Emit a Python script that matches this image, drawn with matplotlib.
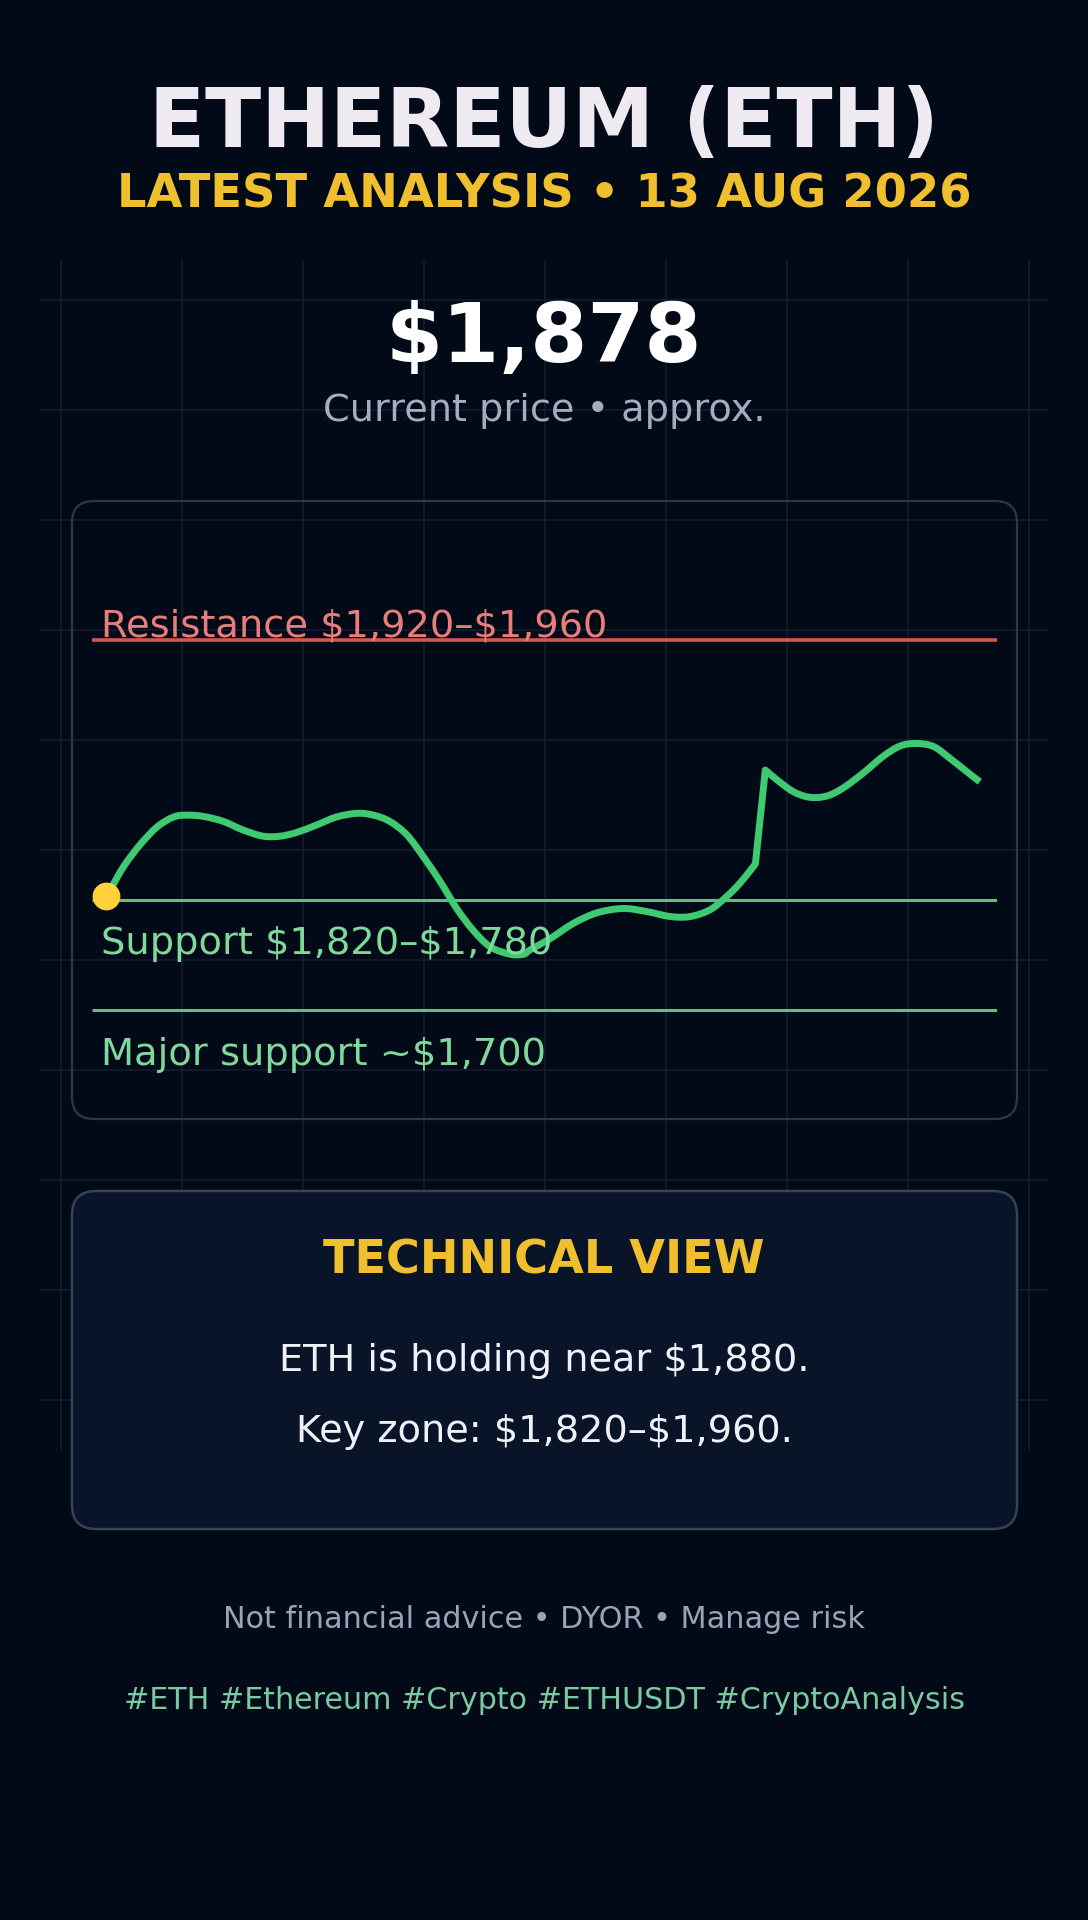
import matplotlib
matplotlib.use("Agg")
import matplotlib.pyplot as plt
from matplotlib.patches import FancyBboxPatch, PathPatch
from matplotlib.path import Path
import numpy as np

# ---------------- data ----------------
title = "ETHEREUM (ETH)"
subtitle = "LATEST ANALYSIS • 13 AUG 2026"
price_text = "$1,878"
price_caption = "Current price • approx."

level_names = ["Resistance $1,920–$1,960", "Support $1,820–$1,780", "Major support ~$1,700"]
level_values = [77.3, 35.3, 17.5]          # relative position in chart (0-100)

# price path: time (0-100 % of session) and relative level (0-100)
path_t = [1.5, 2.0, 3.5, 5.3, 7.2, 9.0, 10.5, 12.3, 14.5, 16.7, 18.9, 20.8, 22.6,
          24.8, 27.0, 29.3, 31.1, 32.9, 34.8, 36.6, 38.5, 40.3, 42.1, 44.0, 46.2,
          47.7, 48.4, 50.6, 53.2, 55.8, 58.7, 61.3, 63.9, 66.1, 68.3, 70.1, 71.6,
          73.3, 74.4, 75.7, 77.5, 79.3, 81.2, 83.0, 85.2, 87.4, 89.3, 91.1,
          93.0, 94.8, 96.7, 98.1]
path_v = [35.9, 36.9, 40.7, 44.2, 47.1, 48.7, 49.0, 48.8, 48.0, 46.6, 45.6, 45.6, 46.2,
          47.4, 48.7, 49.3, 49.0, 48.0, 45.8, 42.3, 38.2, 33.9, 30.4, 27.7, 26.5,
          26.5, 27.2, 29.0, 31.5, 33.2, 33.9, 33.4, 32.6, 32.6, 33.7, 35.8, 38.0,
          41.1, 56.3, 54.7, 52.8, 51.9, 52.1, 53.4, 55.8, 58.5, 60.2, 60.6,
          60.1, 58.2, 56.0, 54.4]
sharp_t = [73.3, 74.4]   # corners of the breakout spike

view_title = "TECHNICAL VIEW"
view_lines = ["ETH is holding near $1,880.", "Key zone: $1,820–$1,960."]
footer = "Not financial advice • DYOR • Manage risk"
hashtags = "#ETH #Ethereum #Crypto #ETHUSDT #CryptoAnalysis"

# ---------------- style ----------------
W, H, DPI = 1088, 1920, 100
BG = "#020a17"
GRID = "#141d2d"
plt.rcParams['font.family'] = ['DejaVu Sans']
plt.rcParams['text.parse_math'] = False

fig = plt.figure(figsize=(W / DPI, H / DPI), dpi=DPI, facecolor=BG)

# background / layout axes in pixel units
bg = fig.add_axes([0, 0, 1, 1], zorder=0)
bg.set_xlim(0, W)
bg.set_ylim(H, 0)
bg.axis("off")
bg.set_facecolor(BG)

# decorative grid
for gx in 61 + 121 * np.arange(9):
    bg.plot([gx, gx], [260, 1450], color=GRID, lw=1.2, zorder=1, solid_capstyle="butt")
for gy in 300 + 110 * np.arange(11):
    bg.plot([40, 1048], [gy, gy], color=GRID, lw=1.2, zorder=1, solid_capstyle="butt")

# header texts
bg.text(544, 147, title, ha="center", va="baseline", fontsize=59.2, weight="bold",
        color="#efe9f1", zorder=5)
bg.text(544, 208, subtitle, ha="center", va="baseline", fontsize=33.4, weight="bold",
        color="#f0bf2e", zorder=5)
bg.text(544, 362, price_text, ha="center", va="baseline", fontsize=59, weight="bold",
        color="#ffffff", zorder=5)
bg.text(544, 421, price_caption, ha="center", va="baseline", fontsize=27.5,
        color="#a3adbf", zorder=5)

# chart card
bg.add_patch(FancyBboxPatch((72, 501), 945, 618,
                            boxstyle="round,pad=0,rounding_size=22",
                            fc="none", ec="#2b384c", lw=1.6, zorder=3))

# technical view card
bg.add_patch(FancyBboxPatch((72, 1191), 945, 338,
                            boxstyle="round,pad=0,rounding_size=24",
                            fc="#0a1429", ec="#33435a", lw=1.8, zorder=3))
bg.text(544, 1273, view_title, ha="center", va="baseline", fontsize=33.2, weight="bold",
        color="#f0bf2e", zorder=5)
for i, line in enumerate(view_lines):
    bg.text(544, 1371 + 71 * i, line, ha="center", va="baseline", fontsize=27.5,
            color="#eef1f6", zorder=5)

# footer
bg.text(544, 1628, footer, ha="center", va="baseline", fontsize=21.8,
        color="#9aa4b8", zorder=5)
bg.text(544, 1709, hashtags, ha="center", va="baseline", fontsize=21.7,
        color="#7cc8a0", zorder=5)

# ---------------- chart axes ----------------
ax = fig.add_axes([92 / W, 1 - 1118 / H, 905 / W, 618 / H], zorder=2)
ax.set_xlim(0, 100)
ax.set_ylim(0, 100)
ax.patch.set_alpha(0)
ax.axis("off")

line_colors = ["#d9534f", "#62bd7f", "#62bd7f"]
line_widths = [2.6, 2.2, 2.2]
label_colors = ["#e87e7b", "#80d99c", "#80d99c"]
label_offsets = [0.65, -8.75, -8.9]
for name, val, lc, lw, tc, off in zip(level_names, level_values, line_colors,
                                      line_widths, label_colors, label_offsets):
    ax.axhline(val, xmin=0, xmax=1, color=lc, lw=lw, zorder=2, solid_capstyle="butt")
    ax.text(1.0, val + off, name, ha="left", va="baseline", fontsize=27.6,
            color=tc, zorder=6)

# smooth (Catmull-Rom style) rendering of the sampled price path, sharp at corners
pts = np.column_stack([path_t, path_v])
n = len(pts)
sharp = [t in sharp_t for t in path_t]
m_in, m_out = [], []
for i in range(n):
    prev = pts[max(i - 1, 0)]
    nxt = pts[min(i + 1, n - 1)]
    if sharp[i]:
        m_in.append(pts[i] - prev)
        m_out.append(nxt - pts[i])
    else:
        m = (nxt - prev) / 2.0
        m_in.append(m)
        m_out.append(m)
verts = [pts[0]]
codes = [Path.MOVETO]
for i in range(n - 1):
    verts += [pts[i] + m_out[i] / 3.0, pts[i + 1] - m_in[i + 1] / 3.0, pts[i + 1]]
    codes += [Path.CURVE4] * 3
ax.add_patch(PathPatch(Path(verts, codes), fill=False, ec="#3fca72", lw=5.0,
                       joinstyle="round", capstyle="butt", zorder=4))
ax.plot(path_t[0], path_v[0], "o", ms=20, color="#ffd23a", mec="none", zorder=5)

fig.savefig("out.png", dpi=DPI, facecolor=BG)
